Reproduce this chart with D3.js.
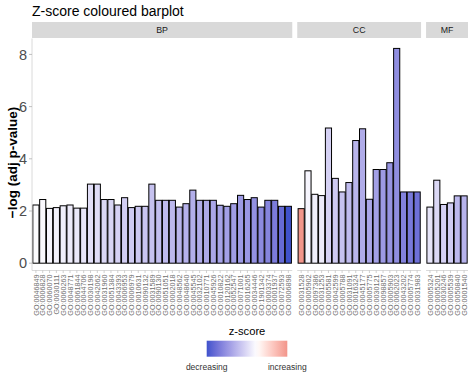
<!DOCTYPE html>
<html><head><meta charset="utf-8">
<script src="https://cdn.jsdelivr.net/npm/d3@7"></script>
<style>body{margin:0;background:#fff}svg{display:block;font-family:"Liberation Sans",Arial,sans-serif}</style>
</head><body><svg id="c" width="474" height="379"></svg>
<script>
const categories = ["BP","CC","MF"];
const bpTerms = ["GO:0046849","GO:0006828","GO:0060070","GO:0030111","GO:0060263","GO:0048771","GO:0061844","GO:0044706","GO:0030198","GO:0042062","GO:0031960","GO:0051384","GO:0043393","GO:0006953","GO:0006979","GO:0010631","GO:0090132","GO:0031589","GO:0090130","GO:0051051","GO:0002018","GO:0048562","GO:0048640","GO:0045545","GO:0032102","GO:0010771","GO:0045926","GO:0010822","GO:0120162","GO:0052547","GO:0071001","GO:0016265","GO:0034446","GO:1901342","GO:0003374","GO:0001937","GO:0072593","GO:0006898"];
const bpLogP = [2.23,2.44,2.10,2.13,2.20,2.23,2.11,2.11,3.03,3.03,2.44,2.44,2.23,2.51,2.13,2.18,2.18,3.03,2.41,2.41,2.41,2.15,2.28,2.80,2.41,2.41,2.41,2.22,2.18,2.28,2.60,2.44,2.51,2.15,2.41,2.41,2.18,2.18];
const bpZ = [-0.1,-0.2,-0.3,-0.4,-0.5,-0.6,-0.7,-0.8,-1.0,-1.1,-1.2,-1.3,-1.4,-1.5,-1.6,-1.7,-1.8,-1.9,-2.0,-2.1,-2.2,-2.3,-2.4,-2.5,-2.6,-2.7,-2.8,-2.9,-3.0,-3.1,-3.2,-3.3,-3.5,-3.7,-3.9,-4.2,-4.8,-5.7];
const ccTerms = ["GO:0031528","GO:0005902","GO:0097386","GO:0031253","GO:0005581","GO:0042599","GO:0005788","GO:0031091","GO:0016324","GO:0045177","GO:0005775","GO:0030121","GO:0098857","GO:0005903","GO:0062023","GO:0043202","GO:0005774","GO:0031983"];
const ccLogP = [2.09,3.54,2.64,2.59,5.18,3.25,2.73,3.09,4.70,5.15,2.45,3.59,3.59,3.85,8.23,2.73,2.73,2.73];
const ccZ = [3.5,-0.3,-0.5,-0.6,-1.4,-1.6,-1.9,-2.1,-2.3,-2.6,-2.8,-3.0,-3.2,-3.4,-3.6,-4.0,-4.3,-4.6];
const mfTerms = ["GO:0005324","GO:0005201","GO:0030246","GO:0005539","GO:0050840","GO:0001540"];
const mfLogP = [2.15,3.18,2.25,2.31,2.58,2.58];
const mfZ = [-0.8,-1.2,-1.4,-1.6,-2.2,-2.4];
const yTicks = [0,2,4,6,8];
const title = "Z-score coloured barplot";
const yTitle = "\u2212log (adj p-value)";
const legendTitle = "z-score";
const legendLabels = ["decreasing","increasing"];
const lowCol = "#3F52CC", midCol = "#FFFFFF", highCol = "#F2958A";

const panels = [
  {cat:"BP", terms:bpTerms, logp:bpLogP, z:bpZ},
  {cat:"CC", terms:ccTerms, logp:ccLogP, z:ccZ},
  {cat:"MF", terms:mfTerms, logp:mfLogP, z:mfZ}
];

const svg = d3.select("#c");
const left = 32, right = 468, gap = 5, pad = 0.5;
const panelTop = 38.5, panelBottom = 270.5, stripTop = 22;
const total = panels.reduce((s,p)=>s+p.terms.length,0);
const unit = (right-left-gap*(panels.length-1)-2*pad*panels.length)/total;

const y = d3.scaleLinear().domain([-0.28,8.61]).range([panelBottom,panelTop]);
const allZ = bpZ.concat(ccZ, mfZ);
const zMin = d3.min(allZ), zMax = d3.max(allZ);
const color = d3.scaleLinear().domain([zMin,0,zMax]).range([lowCol,midCol,highCol]).interpolate(d3.interpolateLab);

// title
svg.append("text").attr("x",32).attr("y",16).attr("font-size",14).attr("fill","#000").text(title);

let x0 = left;
panels.forEach((p,i)=>{
  const w = p.terms.length*unit + 2*pad;
  const x = d3.scaleBand().domain(p.terms).range([x0+pad, x0+w-pad]).paddingInner(0.1).paddingOuter(0.05);
  const g = svg.append("g");
  g.append("rect").attr("x",x0).attr("y",stripTop).attr("width",w).attr("height",panelTop-stripTop-0.5).attr("fill","#D9D9D9");
  g.append("text").attr("x",x0+w/2).attr("y",(stripTop+panelTop)/2).attr("dy","0.35em").attr("text-anchor","middle")
    .attr("font-size",8.8).attr("fill","#1A1A1A").text(p.cat);
  g.append("line").attr("x1",x0).attr("x2",x0+w).attr("y1",panelBottom).attr("y2",panelBottom).attr("stroke","#D0D0D0").attr("stroke-width",0.8);
  g.selectAll("rect.bar").data(p.terms).join("rect").attr("class","bar")
    .attr("x",d=>x(d)).attr("width",x.bandwidth())
    .attr("y",(d,j)=>y(p.logp[j])).attr("height",(d,j)=>y(0)-y(p.logp[j]))
    .attr("fill",(d,j)=>color(p.z[j])).attr("stroke","#000").attr("stroke-width",1);
  const ax = g.append("g");
  p.terms.forEach(t=>{
    const cx = x(t)+x.bandwidth()/2;
    ax.append("line").attr("x1",cx).attr("x2",cx).attr("y1",panelBottom).attr("y2",panelBottom+2.5).attr("stroke","#B0B0B0").attr("stroke-width",0.6);
    ax.append("text").attr("transform",`translate(${cx+0.2},${panelBottom+4}) rotate(-90)`)
      .attr("text-anchor","end").attr("dy","0.35em").attr("font-size",7.2).attr("fill","#707070").text(t);
  });
  x0 += w + gap;
});

svg.append("line").attr("x1",left).attr("x2",left).attr("y1",panelTop).attr("y2",panelBottom).attr("stroke","#D0D0D0").attr("stroke-width",0.8);
yTicks.forEach(t=>{
  svg.append("line").attr("x1",left-3).attr("x2",left).attr("y1",y(t)).attr("y2",y(t)).attr("stroke","#B0B0B0").attr("stroke-width",0.8);
  svg.append("text").attr("x",left-5).attr("y",y(t)).attr("dy","0.36em").attr("text-anchor","end")
    .attr("font-size",14.5).attr("fill","#4D4D4D").text(t);
});
svg.append("text").attr("transform",`translate(12,${(panelTop+panelBottom)/2 + 8}) rotate(-90)`)
  .attr("text-anchor","middle").attr("dy","0.35em").attr("font-size",13.5).attr("font-weight","bold").attr("fill","#000").text(yTitle);

const lg = svg.append("g");
const lx0 = 206.7, lx1 = 287.3, ly0 = 340.7, ly1 = 356.7;
const defs = svg.append("defs");
const grad = defs.append("linearGradient").attr("id","zg");
const ls = d3.scaleLinear().domain([zMin,zMax]).range([lx0,lx1]);
d3.range(0,1.0001,0.05).forEach(f=>{
  const v = zMin + f*(zMax-zMin);
  grad.append("stop").attr("offset",(f*100)+"%").attr("stop-color",color(v));
});
lg.append("rect").attr("x",ls(zMin)).attr("y",ly0).attr("width",ls(zMax)-ls(zMin)).attr("height",ly1-ly0).attr("fill","url(#zg)");
lg.append("text").attr("x",(lx0+lx1)/2).attr("y",335).attr("text-anchor","middle").attr("font-size",11.2).attr("fill","#000").text(legendTitle);
lg.append("text").attr("x",ls(zMin)).attr("y",369.5).attr("text-anchor","middle").attr("font-size",8.5).attr("fill","#333").text(legendLabels[0]);
lg.append("text").attr("x",ls(zMax)).attr("y",369.5).attr("text-anchor","middle").attr("font-size",8.5).attr("fill","#333").text(legendLabels[1]);
</script></body></html>
